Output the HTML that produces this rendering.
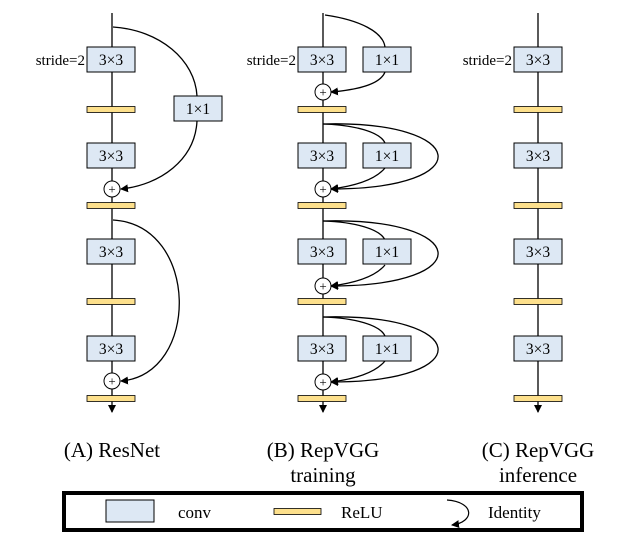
<!DOCTYPE html>
<html><head><meta charset="utf-8"><style>body{margin:0;background:#fff}svg{display:block}</style></head><body>
<svg width="627" height="541" viewBox="0 0 627 541" xmlns="http://www.w3.org/2000/svg" font-family="Liberation Serif, serif">
<defs><marker id="a" markerWidth="8" markerHeight="8" refX="7" refY="4" orient="auto" markerUnits="userSpaceOnUse"><path d="M0,0 L8,4 L0,8 z" fill="#000"/></marker></defs>
<g stroke="#000" stroke-width="1.3" fill="none">
<line x1="112" y1="13" x2="112" y2="412" marker-end="url(#a)"/>
<line x1="323" y1="13" x2="323" y2="412" marker-end="url(#a)"/>
<line x1="538" y1="13" x2="538" y2="412" marker-end="url(#a)"/>
<path d="M113,27 C160,30 195,60 197,96"/>
<path d="M197,121 C195,160 160,185 121,189" marker-end="url(#a)"/>
<path d="M113,220 C200,225 200,375 121,381" marker-end="url(#a)"/>
<path d="M325,15 C360,20 383,32 385,47"/>
<path d="M385,72 C380,85 355,90 331,92" marker-end="url(#a)"/>
<g id="blk">
<path d="M323,124 C355,125 380,132 385,143"/>
<path d="M385,168 C375,180 355,186 331,189" marker-end="url(#a)"/>
<path d="M323,124 C470,120 480,189 331,189" marker-end="url(#a)"/>
</g>
<use href="#blk" y="97"/>
<use href="#blk" y="193"/>
</g>
<g fill="#dde8f4" stroke="#000" stroke-width="1">
<rect x="87" y="47" width="48" height="25"/><rect x="87" y="143" width="48" height="25"/><rect x="87" y="239" width="48" height="25"/><rect x="87" y="336" width="48" height="25"/>
<rect x="174" y="96" width="48" height="25"/>
<rect x="298" y="47" width="48" height="25"/><rect x="298" y="143" width="48" height="25"/><rect x="298" y="239" width="48" height="25"/><rect x="298" y="336" width="48" height="25"/>
<rect x="363" y="47" width="48" height="25"/><rect x="363" y="143" width="48" height="25"/><rect x="363" y="239" width="48" height="25"/><rect x="363" y="336" width="48" height="25"/>
<rect x="514" y="47" width="48" height="25"/><rect x="514" y="143" width="48" height="25"/><rect x="514" y="239" width="48" height="25"/><rect x="514" y="336" width="48" height="25"/>
</g>
<g fill="#fde08c" stroke="#000" stroke-width="0.8">
<rect x="87" y="106.5" width="48" height="6"/><rect x="87" y="202.5" width="48" height="6"/><rect x="87" y="298.5" width="48" height="6"/><rect x="87" y="395.5" width="48" height="6"/>
<rect x="298" y="106.5" width="48" height="6"/><rect x="298" y="202.5" width="48" height="6"/><rect x="298" y="298.5" width="48" height="6"/><rect x="298" y="395.5" width="48" height="6"/>
<rect x="514" y="106.5" width="48" height="6"/><rect x="514" y="202.5" width="48" height="6"/><rect x="514" y="298.5" width="48" height="6"/><rect x="514" y="395.5" width="48" height="6"/>
</g>
<g fill="#fff" stroke="#000" stroke-width="1">
<circle cx="112" cy="189" r="8"/><circle cx="112" cy="381" r="8"/>
<circle cx="323" cy="92" r="8"/><circle cx="323" cy="189" r="8"/><circle cx="323" cy="286" r="8"/><circle cx="323" cy="382" r="8"/>
</g>
<g font-size="13" text-anchor="middle" fill="#000">
<text x="112" y="193.5">+</text><text x="112" y="385.5">+</text>
<text x="323" y="96.5">+</text><text x="323" y="193.5">+</text><text x="323" y="290.5">+</text><text x="323" y="386.5">+</text>
</g>
<g font-size="15.5" text-anchor="middle" fill="#000">
<text x="111" y="65">3×3</text><text x="111" y="161">3×3</text><text x="111" y="257">3×3</text><text x="111" y="354">3×3</text>
<text x="198" y="114">1×1</text>
<text x="322" y="65">3×3</text><text x="322" y="161">3×3</text><text x="322" y="257">3×3</text><text x="322" y="354">3×3</text>
<text x="387" y="65">1×1</text><text x="387" y="161">1×1</text><text x="387" y="257">1×1</text><text x="387" y="354">1×1</text>
<text x="538" y="65">3×3</text><text x="538" y="161">3×3</text><text x="538" y="257">3×3</text><text x="538" y="354">3×3</text>
</g>
<g font-size="15" text-anchor="end" fill="#000">
<text x="85" y="65">stride=2</text><text x="296" y="65">stride=2</text><text x="512" y="65">stride=2</text>
</g>
<g font-size="21" text-anchor="middle" fill="#000">
<text x="112" y="457">(A) ResNet</text>
<text x="323" y="457">(B) RepVGG</text><text x="323" y="482">training</text>
<text x="538" y="457">(C) RepVGG</text><text x="538" y="482">inference</text>
</g>
<rect x="64" y="493" width="518" height="37" fill="none" stroke="#000" stroke-width="4"/>
<rect x="106" y="500" width="48" height="22" fill="#dde8f4" stroke="#000" stroke-width="1"/>
<rect x="274" y="508.5" width="47" height="6" fill="#fde08c" stroke="#000" stroke-width="0.8"/>
<path d="M447,500 C475,502 475,522 452,525" fill="none" stroke="#000" stroke-width="1.2" marker-end="url(#a)"/>
<g font-size="17" fill="#000"><text x="178" y="518">conv</text><text x="341" y="518">ReLU</text><text x="488" y="518">Identity</text></g>
</svg>
</body></html>
